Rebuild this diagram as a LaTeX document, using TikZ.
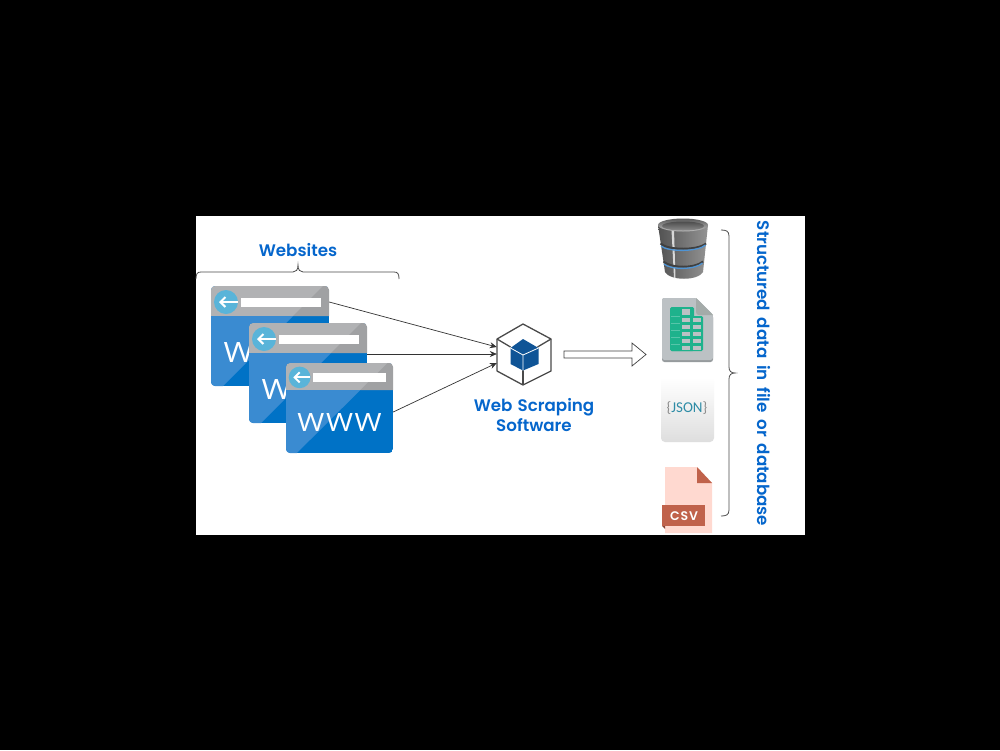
\documentclass[tikz,border=0pt]{standalone}
\usepackage{fontspec}
\setmainfont{Open Sans}
\newfontfamily\comic{Poppins}[BoldFont={Poppins SemiBold}]
\newfontfamily\comicwide{Poppins}[BoldFont={Poppins SemiBold},WordSpace=1.3]
\newfontfamily\csvfont{Poppins}[BoldFont={Poppins SemiBold},LetterSpace=7]
\newfontfamily\wwwfont{Open Sans}[LetterSpace=6,FakeStretch=1.15]
\newfontfamily\jsonfont{Carlito}
\usetikzlibrary{arrows.meta}
\definecolor{labelblue}{HTML}{0566CC}
\definecolor{bodylight}{HTML}{3A8BD1}
\definecolor{bodydark}{HTML}{0072C6}
\definecolor{headlight}{HTML}{B1B2B4}
\definecolor{headdark}{HTML}{A0A1A3}
\definecolor{circ}{HTML}{59B4D9}
\definecolor{cubeblue}{HTML}{0F5496}
\definecolor{hexgrey}{HTML}{4A4A4A}
\definecolor{sheetgrey}{HTML}{BCC1C4}
\definecolor{sheetfold}{HTML}{A4ABA9}
\definecolor{sheetgreen}{HTML}{1EB28C}
\definecolor{csvpink}{HTML}{FFD9D0}
\definecolor{csvred}{HTML}{C0624B}
\definecolor{jsonteal}{HTML}{2E8CA6}
\definecolor{dbblue}{HTML}{4F94D4}
\tikzset{
  lbl/.style={font=\comic\bfseries\fontsize{16.7}{20}\selectfont,text=labelblue,inner sep=0pt,align=center},
  link/.style={draw=black!80,line width=.7pt,-{Stealth[length=7pt,width=6pt]}},
  bracket/.style={draw=black!70,line width=.8pt},
  bigarrow/.style={draw=black!75,fill=white,line width=.7pt},
  hexline/.style={draw=hexgrey,line width=1.3pt,line join=round},
}
\newcommand{\browser}[5]{% name,x,y,xscale,yscale
\begin{scope}[shift={(#2,#3)},xscale=#4,yscale=#5]
  \begin{scope}
    \clip[rounded corners=4pt] (0,0) rectangle (118,100);
    \fill[bodydark] (0,0) rectangle (118,100);
    \fill[bodylight] (0,30) -- (82,30) -- (12,100) -- (0,100) -- cycle;
    \fill[headlight] (0,0) rectangle (118,30);
    \fill[headdark] (82,30) -- (112,0) -- (118,0) -- (118,30) -- cycle;
  \end{scope}
  \node[minimum width=118pt,minimum height=100pt,inner sep=0pt,transform shape] (#1) at (59,50) {};
  \fill[circ] (15,16) circle (12);
  \draw[white,line width=2pt,-{Straight Barb[length=5pt,width=10pt]}] (27,16) -- (8,16);
  \fill[white] (30,11.5) rectangle (110,21);
  \node[text=white,inner sep=0pt,font=\wwwfont\fontsize{28}{30}\selectfont,transform shape] at (59,66) {WWW};
\end{scope}}
\begin{document}
\begin{tikzpicture}[x=1pt,y=-1pt]
\useasboundingbox (0,0) rectangle (1000,750);
\fill[black] (0,0) rectangle (1000,750);
\fill[white] (196,216) rectangle (805,535);

% brace over websites
\draw[bracket] (196,279) .. controls (196,274) and (197,272) .. (201,272) -- (293,272) .. controls (296,272) and (298,270) .. (298,265) .. controls (298,270) and (300,272) .. (303,272) -- (394,272) .. controls (398,272) and (399,274) .. (399,279);
\node[lbl] (websites) at (298,250) {Websites};

\browser{wa}{211}{286}{1}{1}
\browser{wb}{249}{323}{1}{1}
\browser{wc}{286}{363}{.907}{.9}

% software cube
\coordinate (hT) at (523,324);
\coordinate (hUR) at (551,339);
\coordinate (hLR) at (551,371);
\coordinate (hB) at (523,385);
\coordinate (hLL) at (497,371);
\coordinate (hUL) at (497,339);
\draw[hexline] (hT) -- (hUR) -- (hLR) -- (hB) -- (hLL) -- (hUL) -- cycle;
\draw[hexline] (hUL) -- (510.5,347);
\draw[hexline] (hUR) -- (537.5,347);
\draw[hexline] (hB) -- (523,370);
\fill[cubeblue] (523,339) -- (538.5,348) -- (538.5,364) -- (523,370.5) -- (510.5,364) -- (510.5,348) -- cycle;
\draw[white,line width=.8pt] (510.5,348) -- (523,355) -- (538.5,348) (523,355) -- (523,370.5);
\node[minimum width=54pt,minimum height=61pt,inner sep=0pt] (soft) at (524,354.5) {};

\coordinate (ia) at (soft.west |- 0,347);
\coordinate (ib) at (soft.west |- 0,354);
\coordinate (ic) at (soft.west |- 0,363);
\coordinate (oa) at (wa.north east |- 0,302);
\coordinate (ob) at (wb.north east |- 0,354);
\coordinate (oc) at (wc.north east |- 0,412);
\draw[link] (oa) -- (ia);
\draw[link] (ob) -- (ib);
\draw[link] (oc) -- (ic);

\node[lbl] (softlabel) at (534,415) {Web Scraping\\[0pt]Software};

% block arrow
\draw[bigarrow] (564,351) -- (632,351) -- (632,343) -- (646,354.5) -- (632,366) -- (632,358) -- (564,358) -- cycle;

% database
\shade[left color=black!68,middle color=black!58,right color=black!42] (658,225) -- (665,272) .. controls (670,281) and (698,281) .. (703,272) -- (708,225) -- cycle;
\fill[black!10,opacity=.9] (671.5,230) -- (674,278) -- (675.5,278) -- (674,230) -- cycle;
\draw[black!75,line width=2pt] (660.5,243.5) .. controls (668,250.5) and (698,250.5) .. (706,243.5);
\draw[black!75,line width=2pt] (663.5,261.5) .. controls (671,268.5) and (695,268.5) .. (703,261.5);
\draw[dbblue,line width=1.3pt] (661,246) .. controls (668,252) and (698,252) .. (705.5,245);
\draw[dbblue,line width=1.3pt] (664,264) .. controls (671,270) and (695,270) .. (702.5,263);
\shade[top color=black!65,bottom color=black!25] (683,225) ellipse (25 and 6.5);
\shade[top color=black!70,bottom color=black!45] (683,226) ellipse (21 and 4.5);

% spreadsheet
\fill[sheetgrey!80!black,rounded corners=2.5pt] (662,298) -- (696,298) -- (713,315) -- (713,362) -- (662,362) -- cycle;
\fill[sheetgrey,rounded corners=2.5pt] (662,298) -- (696,298) -- (713,315) -- (713,360) -- (662,360) -- cycle;
\fill[sheetfold] (696,298) -- (713,315) -- (699,315) .. controls (697,315) and (696,314) .. (696,312) -- cycle;
\fill[sheetgreen,rounded corners=1.5pt] (670,307) rectangle (694,351);
\fill[sheetgreen,rounded corners=1.5pt] (670,316) rectangle (703,351);
\foreach \cy in {317.5,324.5,331.5,338.5,345.5}{
  \fill[sheetgrey] (682,\cy) rectangle (690,\cy+4.5);
  \fill[sheetgrey] (693,\cy) rectangle (701,\cy+4.5);
  \draw[sheetgreen!75!white,line width=.6pt] (671,\cy-1) -- (680,\cy-1);
}
\fill[sheetgrey] (682,309) rectangle (690,315);

% json
\shade[top color=white,bottom color=black!13,rounded corners=4pt] (661,378) rectangle (714,442);
\node[inner sep=0pt,font=\jsonfont\fontsize{15}{17}\selectfont,text=jsonteal] (jsonlabel) at (687,408) {\textcolor{black!45}{\{}JSON\textcolor{black!45}{\}}};

% csv
\fill[csvpink] (665,467) -- (697,467) -- (712,483) -- (712,533) -- (665,533) -- cycle;
\fill[csvred] (697,467) -- (712,483) -- (697,483) -- cycle;
\fill[csvred] (662,505) rectangle (705,526);
\fill[csvred!70!black] (662,526) -- (665,526) -- (665,529) -- cycle;
\node[inner sep=0pt,font=\csvfont\bfseries\fontsize{12.5}{14}\selectfont,text=white] (csvlabel) at (684,516) {CSV};

% right brace
\draw[bracket] (721,230) .. controls (726,230) and (729,231) .. (729,236) -- (729,367) .. controls (729,371) and (731,373) .. (735,373) .. controls (731,373) and (729,375) .. (729,379) -- (729,510) .. controls (729,515) and (726,516) .. (721,516);
\node[lbl,rotate=-90,font=\comicwide\bfseries\fontsize{16.7}{20}\selectfont] (vertlabel) at (764,373.5) {Structured data in file or database};
\end{tikzpicture}
\end{document}
